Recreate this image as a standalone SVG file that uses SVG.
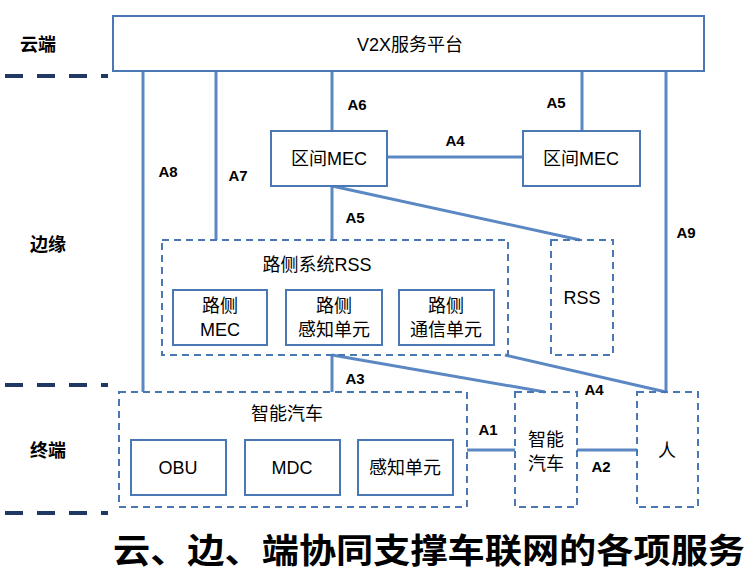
<svg xmlns="http://www.w3.org/2000/svg" width="749" height="572" viewBox="0 0 749 572">
<style>
text{font-family:"Liberation Sans","Noto Sans CJK SC",sans-serif;fill:#000;text-anchor:middle}
.n{font-size:18px}
.l{font-size:15px;font-weight:bold}
.z{font-size:18px;font-weight:bold}
.b{fill:#fff;stroke:#4a78b4;stroke-width:2}
.d{fill:none;stroke:#4a78b4;stroke-width:2;stroke-dasharray:7,5}
.c{stroke:#5b88c3;stroke-width:3;fill:none}
.s{stroke:#1f3864;stroke-width:4;stroke-dasharray:18,14}
</style>
<rect width="749" height="572" fill="#fff"/>
<g id="layers">
<line class="s" x1="5" y1="76" x2="108" y2="76"/>
<line class="s" x1="5" y1="385" x2="108" y2="385"/>
<line class="s" x1="5" y1="513" x2="108" y2="513"/>
<text class="z" x="38" y="51">云端</text>
<text class="z" x="48" y="251">边缘</text>
<text class="z" x="48" y="457">终端</text>
</g>
<g id="connectors">
<line class="c" x1="143" y1="71" x2="143" y2="392"/>
<line class="c" x1="216" y1="71" x2="216" y2="240"/>
<line class="c" x1="332" y1="71" x2="332" y2="131"/>
<line class="c" x1="582" y1="71" x2="582" y2="131"/>
<line class="c" x1="666" y1="71" x2="666" y2="392"/>
<line class="c" x1="387" y1="157" x2="523" y2="157"/>
<line class="c" x1="332" y1="186" x2="332" y2="240"/>
<line class="c" x1="332" y1="186" x2="580" y2="240"/>
<line class="c" x1="332" y1="355" x2="332" y2="392"/>
<line class="c" x1="332" y1="355" x2="545" y2="392"/>
<line class="c" x1="505" y1="355" x2="666" y2="392"/>
<line class="c" x1="467" y1="450" x2="515" y2="450"/>
<line class="c" x1="577" y1="450" x2="637" y2="450"/>
<text class="l" x="168" y="177">A8</text>
<text class="l" x="238" y="181">A7</text>
<text class="l" x="357" y="110">A6</text>
<text class="l" x="556" y="108">A5</text>
<text class="l" x="686" y="238">A9</text>
<text class="l" x="455" y="146">A4</text>
<text class="l" x="355" y="223">A5</text>
<text class="l" x="355" y="384">A3</text>
<text class="l" x="594" y="395">A4</text>
<text class="l" x="488" y="435">A1</text>
<text class="l" x="601" y="472">A2</text>
</g>
<g id="v2x"><rect class="b" x="113" y="16" width="591" height="55"/><text class="n" x="410" y="51">V2X服务平台</text></g>
<g id="mec1"><rect class="b" x="271" y="131" width="116" height="55"/><text class="n" x="329" y="165">区间MEC</text></g>
<g id="mec2"><rect class="b" x="523" y="131" width="117" height="55"/><text class="n" x="581" y="165">区间MEC</text></g>
<g id="rss"><rect class="d" x="162" y="240" width="346" height="115" fill="#fff"/><text class="n" x="317" y="271">路侧系统RSS</text></g>
<g id="rmec"><rect class="b" x="173" y="290" width="94" height="55"/><text class="n" x="220" y="312">路侧</text><text class="n" x="220" y="336">MEC</text></g>
<g id="rsense"><rect class="b" x="286" y="290" width="96" height="55"/><text class="n" x="334" y="312">路侧</text><text class="n" x="334" y="336">感知单元</text></g>
<g id="rcomm"><rect class="b" x="399" y="290" width="95" height="55"/><text class="n" x="446" y="312">路侧</text><text class="n" x="446" y="336">通信单元</text></g>
<g id="rss2"><rect class="d" x="551" y="240" width="62" height="115"/><text class="n" x="582" y="304">RSS</text></g>
<g id="car"><rect class="d" x="119" y="392" width="348" height="115"/><text class="n" x="287" y="420">智能汽车</text></g>
<g id="obu"><rect class="b" x="131" y="440" width="95" height="55"/><text class="n" x="178" y="474">OBU</text></g>
<g id="mdc"><rect class="b" x="245" y="440" width="95" height="55"/><text class="n" x="292" y="474">MDC</text></g>
<g id="sense"><rect class="b" x="358" y="440" width="95" height="55"/><text class="n" x="405" y="474">感知单元</text></g>
<g id="car2"><rect class="d" x="515" y="392" width="62" height="115"/><text class="n" x="546" y="446">智能</text><text class="n" x="546" y="470">汽车</text></g>
<g id="person"><rect class="d" x="637" y="392" width="61" height="115"/><text class="n" x="667" y="457">人</text></g>
<text x="429" y="563" font-size="34" font-weight="bold" textLength="632" lengthAdjust="spacingAndGlyphs">云、边、端协同支撑车联网的各项服务</text>
</svg>
